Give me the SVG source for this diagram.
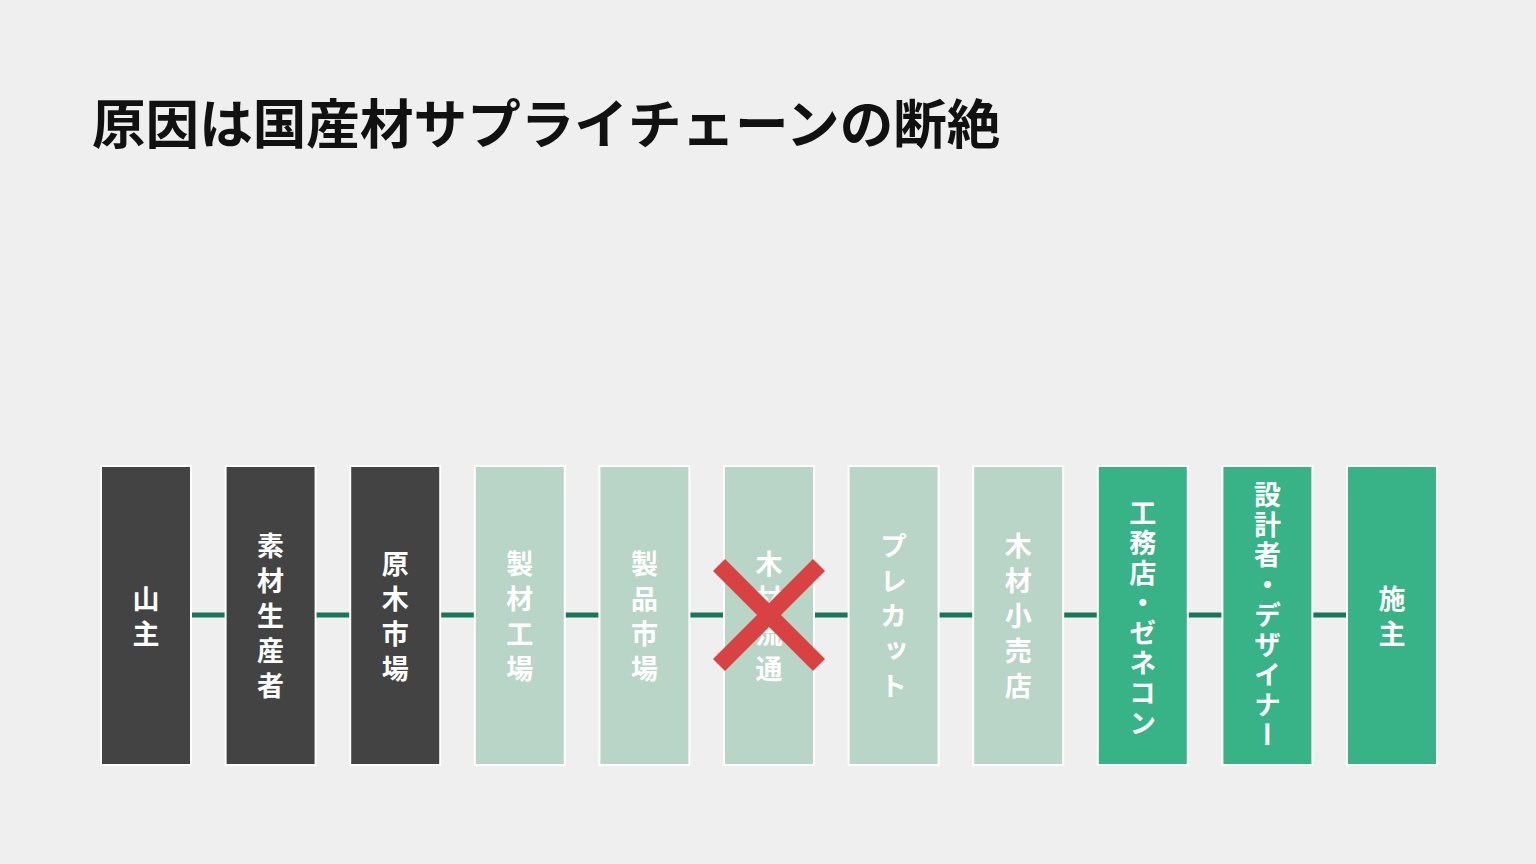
<svg xmlns="http://www.w3.org/2000/svg" width="1536" height="864" viewBox="0 0 1536 864">
<style>
.bg{fill:#efefef}
.title{font-family:"Noto Sans CJK JP","Noto Sans CJK SC",sans-serif;font-weight:700;font-size:53.6px;fill:#111}
.box{stroke:#ffffff;stroke-width:2}
.dark{fill:#434343}
.light{fill:#b9d5c8}
.green{fill:#38b387}
.lbl{font-family:"Noto Sans CJK JP","Noto Sans CJK SC",sans-serif;font-weight:700;font-size:27px;fill:#ffffff;writing-mode:vertical-rl;text-anchor:middle;letter-spacing:8px}
.lbl.tight{letter-spacing:3px}
.conn{stroke:#17775b;stroke-width:5}
.cross{stroke:#d94242;stroke-width:17}
</style>
<rect class="bg" x="0" y="0" width="1536" height="864"/>
<text class="title" x="92" y="144">原因は国産材サプライチェーンの断絶</text>
<g id="connectors">
<line class="conn" x1="191" y1="615" x2="225.6" y2="615"/>
<line class="conn" x1="315.6" y1="615" x2="350.2" y2="615"/>
<line class="conn" x1="440.2" y1="615" x2="474.8" y2="615"/>
<line class="conn" x1="564.8" y1="615" x2="599.4" y2="615"/>
<line class="conn" x1="689.4" y1="615" x2="724" y2="615"/>
<line class="conn" x1="814" y1="615" x2="848.6" y2="615"/>
<line class="conn" x1="938.6" y1="615" x2="973.2" y2="615"/>
<line class="conn" x1="1063.2" y1="615" x2="1097.8" y2="615"/>
<line class="conn" x1="1187.8" y1="615" x2="1222.4" y2="615"/>
<line class="conn" x1="1312.4" y1="615" x2="1347" y2="615"/>
</g>
<g id="n1"><rect class="box dark" x="101" y="466" width="90" height="299"/><text class="lbl" x="146" y="620">山主</text></g>
<g id="n2"><rect class="box dark" x="225.6" y="466" width="90" height="299"/><text class="lbl" x="270.6" y="620">素材生産者</text></g>
<g id="n3"><rect class="box dark" x="350.2" y="466" width="90" height="299"/><text class="lbl" x="395.2" y="620">原木市場</text></g>
<g id="n4"><rect class="box light" x="474.8" y="466" width="90" height="299"/><text class="lbl" x="519.8" y="620">製材工場</text></g>
<g id="n5"><rect class="box light" x="599.4" y="466" width="90" height="299"/><text class="lbl" x="644.4" y="620">製品市場</text></g>
<g id="n6"><rect class="box light" x="724" y="466" width="90" height="299"/><text class="lbl" x="769" y="620">木材流通</text></g>
<g id="n7"><rect class="box light" x="848.6" y="466" width="90" height="299"/><text class="lbl" x="893.6" y="620">プレカット</text></g>
<g id="n8"><rect class="box light" x="973.2" y="466" width="90" height="299"/><text class="lbl" x="1018.2" y="620">木材小売店</text></g>
<g id="n9"><rect class="box green" x="1097.8" y="466" width="90" height="299"/><text class="lbl tight" x="1142.8" y="619">工務店・ゼネコン</text></g>
<g id="n10"><rect class="box green" x="1222.4" y="466" width="90" height="299"/><text class="lbl tight" x="1267.4" y="616">設計者・デザイナー</text></g>
<g id="n11"><rect class="box green" x="1347" y="466" width="90" height="299"/><text class="lbl" x="1392" y="620">施主</text></g>
<g id="cross">
<line class="cross" x1="719" y1="565" x2="819" y2="665"/>
<line class="cross" x1="819" y1="565" x2="719" y2="665"/>
</g>
</svg>
